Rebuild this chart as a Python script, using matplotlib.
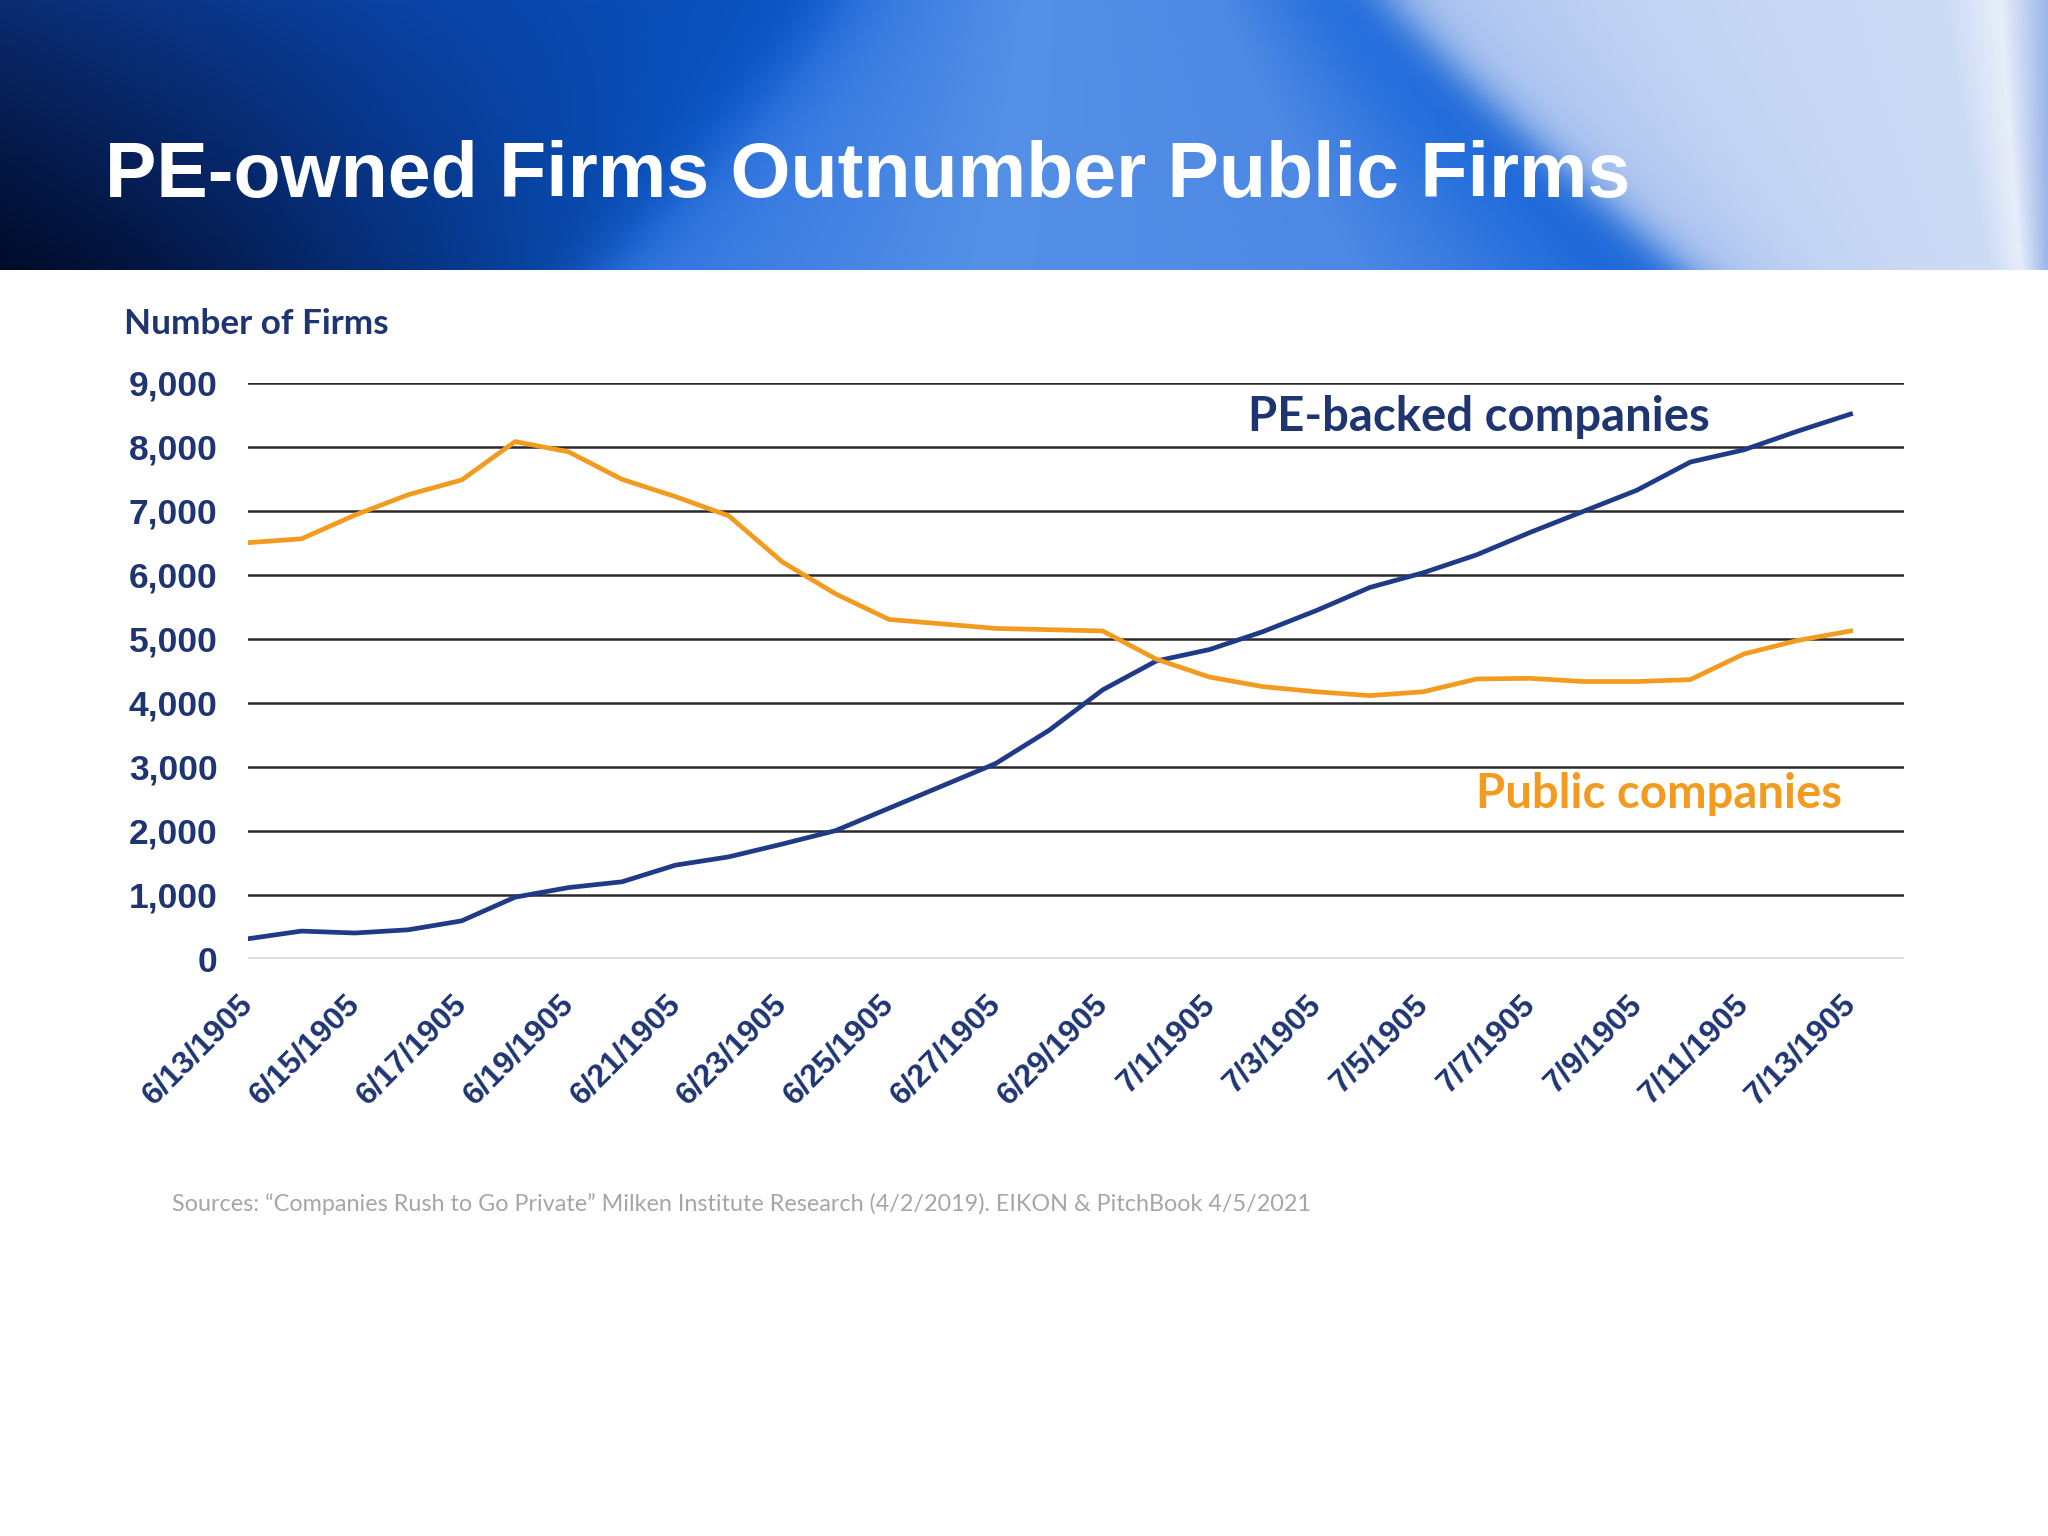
import numpy as np
import matplotlib
matplotlib.use("Agg")
import matplotlib.pyplot as plt
from matplotlib.colors import to_rgb
from matplotlib.transforms import ScaledTranslation

# ---------------- data ----------------
day_index = list(range(31))
tick_positions = list(range(0, 31, 2))
tick_labels = ["6/13/1905", "6/15/1905", "6/17/1905", "6/19/1905", "6/21/1905",
               "6/23/1905", "6/25/1905", "6/27/1905", "6/29/1905", "7/1/1905",
               "7/3/1905", "7/5/1905", "7/7/1905", "7/9/1905", "7/11/1905",
               "7/13/1905"]
pe_backed = [310, 430, 400, 450, 590, 960, 1110, 1200, 1460, 1590, 1790, 2000,
             2350, 2700, 3050, 3570, 4200, 4650, 4830, 5110, 5440, 5800, 6030,
             6310, 6660, 6990, 7320, 7760, 7950, 8240, 8510]
public = [6500, 6560, 6930, 7250, 7480, 8080, 7920, 7490, 7220, 6920, 6200,
          5700, 5300, 5230, 5160, 5140, 5120, 4680, 4400, 4250, 4170, 4110,
          4170, 4370, 4380, 4330, 4330, 4360, 4760, 4970, 5120]
y_ticks = [0, 1000, 2000, 3000, 4000, 5000, 6000, 7000, 8000, 9000]

NAVY = "#1f3a87"
ORANGE = "#f39b1f"
LABEL_NAVY = "#1f3572"

W, H = 2048, 1536
fig = plt.figure(figsize=(W / 100, H / 100), dpi=100)
fig.patch.set_facecolor("white")

# ---------------- header band (decorative gradient) ----------------
band_h = 270
ax_bg = fig.add_axes([0, 1 - band_h / H, 1, band_h / H])
ax_bg.set_axis_off()
xs = np.linspace(0, W, 600)
ys = np.linspace(0, band_h, 100)
X, Y = np.meshgrid(xs, ys)
yn = Y / band_h
b1 = 830 - 225 * yn ** 1.15          # dark/bright boundary
b2 = 1390 + 290 * yn ** 1.1          # bright/light boundary


def sig(z, w):
    return 1 / (1 + np.exp(-z / w))


def ramp(t, stops):
    pos = np.array([s[0] for s in stops])
    cols = np.array([to_rgb(s[1]) for s in stops])
    out = np.zeros(t.shape + (3,))
    for k in range(3):
        out[..., k] = np.interp(t, pos, cols[:, k])
    return out


t1 = np.clip(X / b1, 0, 1)
dark = ramp(t1, [(0, "#0b2c72"), (0.5, "#0a43a6"), (1, "#0a55c4")])
shade = (np.clip(1 - X / 750, 0, 1) ** 1.3 * yn ** 0.9)[..., None]
dark = dark * (1 - shade) + np.array(to_rgb("#010b2a")) * shade
t2 = np.clip((X - b1) / (b2 - b1), 0, 1)
mid = ramp(t2, [(0, "#2f73df"), (0.35, "#5490e6"), (0.7, "#4d89e4"),
                (0.92, "#1f6adb"), (1, "#1262d6")])
t3 = np.clip((X - b2) / (W - b2), 0, 1)
light = ramp(t3, [(0, "#a9c2ef"), (0.4, "#c3d4f4"), (0.85, "#cddcf6"),
                  (0.93, "#e8eefa"), (1, "#9db8ea")])
s1 = sig(X - b1, 22)[..., None]
s2 = sig(X - b2, 18)[..., None]
img = dark * (1 - s1) + mid * s1
img = img * (1 - s2) + light * s2
ax_bg.imshow(img, aspect="auto", extent=[0, 1, 0, 1], origin="upper")
ax_bg.set_xlim(0, 1)
ax_bg.set_ylim(0, 1)

fig.text(105 / W, 1 - 176 / H, "PE-owned Firms Outnumber Public Firms",
         family=["Liberation Sans", "DejaVu Sans"],
         weight="bold", fontsize=55.5, color="white", va="center", ha="left")

# ---------------- chart ----------------
left, right = 248 / W, 1904 / W
bottom, top = 1 - 958.6 / H, 1 - 382.7 / H
ax = fig.add_axes([left, bottom, right - left, top - bottom])
ax.set_facecolor("none")
ax.plot(day_index, pe_backed, color=NAVY, lw=3.4, solid_joinstyle="round", zorder=3)
ax.plot(day_index, public, color=ORANGE, lw=3.4, solid_joinstyle="round", zorder=3)
ax.set_xlim(0, 31)
ax.set_ylim(0, 9000)
ax.set_yticks(y_ticks)
ax.set_yticklabels([f"{v:,}" for v in y_ticks])
ax.set_xticks(tick_positions)
ax.set_xticklabels(tick_labels, rotation=45, ha="right", va="top",
                   rotation_mode="anchor")
for s in ax.spines.values():
    s.set_visible(False)
ax.tick_params(axis="both", length=0)
ax.tick_params(axis="y", pad=22)
ax.tick_params(axis="x", pad=22)
for lab in ax.get_yticklabels():
    lab.set_family(["Liberation Sans", "DejaVu Sans"])
    lab.set_weight("bold")
    lab.set_fontsize(25.5)
    lab.set_color(LABEL_NAVY)
shift = ScaledTranslation(-10 / 100, 0, fig.dpi_scale_trans)
for lab in ax.get_xticklabels():
    lab.set_family(["Liberation Sans", "DejaVu Sans"])
    lab.set_weight("bold")
    lab.set_fontsize(23)
    lab.set_color(LABEL_NAVY)
    lab.set_transform(lab.get_transform() + shift)
ax.grid(axis="y", color="#2a2a2a", lw=1.8, zorder=1)
ax.get_ygridlines()[0].set_color("#dcdcdc")
ax.get_ygridlines()[0].set_linewidth(3.5)
ax.set_axisbelow(True)

fig.text(124 / W, 1 - 324 / H, "Number of Firms", family=["Lato", "DejaVu Sans"],
         weight="bold", fontsize=25.3, color=LABEL_NAVY, va="center", ha="left")
ax.text(0.7434, 8460, "PE-backed companies", transform=ax.get_yaxis_transform(),
        family=["Lato", "DejaVu Sans"], weight="bold", fontsize=34,
        color=LABEL_NAVY, va="center", ha="center")
ax.text(0.852, 2580, "Public companies", transform=ax.get_yaxis_transform(),
        family=["Lato", "DejaVu Sans"], weight="bold", fontsize=34,
        color=ORANGE, va="center", ha="center")

fig.text(172 / W, 1 - 1204 / H,
         "Sources: \u201cCompanies Rush to Go Private\u201d Milken Institute Research (4/2/2019). EIKON & PitchBook 4/5/2021",
         family=["Lato", "DejaVu Sans"], fontsize=16.8,
         color="#a6a6a6", va="center", ha="left")

fig.savefig("out.png", dpi=100, facecolor="white")
